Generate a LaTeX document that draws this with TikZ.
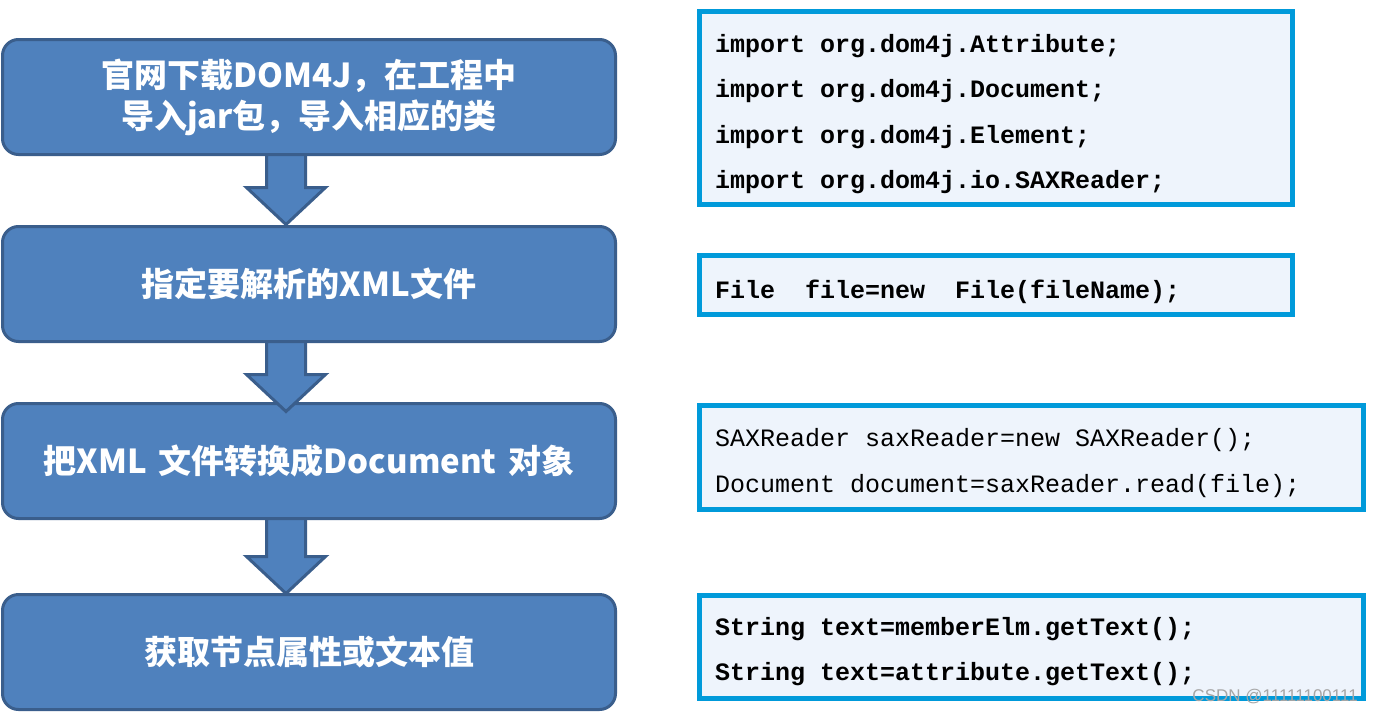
\documentclass[tikz,border=0pt]{standalone}
\usepackage{fontspec}
\setmainfont{Liberation Sans}
\setmonofont{Liberation Mono}
\newfontfamily\cjk{Noto Sans CJK SC}
\usetikzlibrary{calc}
\definecolor{boxfill}{HTML}{4F81BD}
\definecolor{boxline}{HTML}{3A5E8C}
\definecolor{codeborder}{HTML}{009ADA}
\definecolor{codefill}{HTML}{EEF4FC}
\newcommand{\blockarrow}[3]{%
  \path[blockarrow] let \p1=($(#1.south)+(-23,0)$), \p2=($(#2.north)+(0,#3)$) in
    (\x1-19.5pt,\y1) -- (\x1+19.5pt,\y1) -- (\x1+19.5pt,\y2+37pt) -- (\x1+39.5pt,\y2+37pt)
    -- (\x1,\y2) -- (\x1-39.5pt,\y2+37pt) -- (\x1-19.5pt,\y2+37pt) -- cycle;}
\begin{document}
\begin{tikzpicture}[x=1pt,y=-1pt,
  stepbox/.style={draw=boxline, fill=boxfill, line width=3pt, rounded corners=16pt,
    minimum width=613pt, minimum height=115pt, inner sep=0pt, outer sep=0pt, text=white,
    font=\cjk\bfseries\fontsize{33}{41}\selectfont, align=center},
  codebox/.style={draw=codeborder, fill=codefill, line width=5pt, anchor=north west,
    inner sep=0pt, outer sep=0pt},
  codetext/.style={anchor=base west, inner sep=0pt, font=\ttfamily\bfseries\fontsize{25}{25}\selectfont},
  codeplain/.style={anchor=base west, inner sep=0pt, font=\ttfamily\fontsize{25}{25}\selectfont},
  blockarrow/.style={draw=boxline, fill=boxfill, line width=3pt, line join=miter}
]
\useasboundingbox[fill=white] (0,0) rectangle (1374,712);

% left step boxes
\node[stepbox] (s1) at (309,97) {官网下载DOM4J，在工程中\\导入jar包，导入相应的类};
\node[stepbox] (s2) at (309,284) {指定要解析的XML文件};
\node[stepbox] (s3) at (309,461) {把XML\hspace{0.35em}文件转换成Document\hspace{0.35em}对象};
\node[stepbox] (s4) at (309,652) {获取节点属性或文本值};

% block arrows
\blockarrow{s1}{s2}{-2}
\blockarrow{s2}{s3}{8}
\blockarrow{s3}{s4}{-1}

% code boxes
\node[codebox, minimum width=593pt, minimum height=193pt] (c1) at (699.5,11.5) {};
\node[codebox, minimum width=593pt, minimum height=59pt] (c2) at (699.5,255.5) {};
\node[codebox, minimum width=664pt, minimum height=104pt] (c3) at (699.5,405.5) {};
\node[codebox, minimum width=664pt, minimum height=103pt] (c4) at (699.5,595.5) {};

\node[codetext] (c1a) at (715,52) {import org.dom4j.Attribute;};
\node[codetext] (c1b) at (715,97.5) {import org.dom4j.Document;};
\node[codetext] (c1c) at (715,143) {import org.dom4j.Element;};
\node[codetext] (c1d) at (715,188.5) {import org.dom4j.io.SAXReader;};

\node[codetext] (c2a) at (715,298) {File\ \ file=new\ \ File(fileName);};

\node[codeplain] (c3a) at (715,446.5) {SAXReader saxReader=new SAXReader();};
\node[codeplain] (c3b) at (715,492) {Document document=saxReader.read(file);};

\node[codetext] (c4a) at (715,635) {String text=memberElm.getText();};
\node[codetext] (c4b) at (715,680) {String text=attribute.getText();};

% watermark
\node[anchor=base east, inner sep=0pt, text=black!35, font=\fontsize{17}{17}\selectfont] (wm) at (1358,701) {CSDN @11111100111};
\end{tikzpicture}
\end{document}
